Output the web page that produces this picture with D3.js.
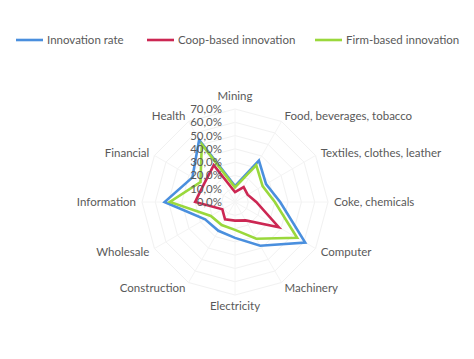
<!DOCTYPE html>
<html><head><meta charset="utf-8">
<script src="https://cdn.jsdelivr.net/npm/d3@7"></script>
<style>
html,body{margin:0;padding:0;background:#fff;}
svg text{font-family:Lato, "Liberation Sans", sans-serif;fill:#595959;}
</style></head>
<body><svg id="c" width="474" height="359"></svg>
<script>
const categories = ["Mining","Food, beverages, tobacco","Textiles, clothes, leather","Coke, chemicals","Computer","Machinery","Electricity","Construction","Wholesale","Information","Financial","Health"];
const innovationRate = [0.12,0.36,0.27,0.34,0.61,0.38,0.27,0.25,0.26,0.53,0.37,0.54];
const coopBased      = [0.075,0.13,0.11,0.16,0.38,0.16,0.14,0.15,0.11,0.30,0.27,0.32];
const firmBased      = [0.11,0.32,0.24,0.30,0.54,0.32,0.21,0.20,0.21,0.49,0.30,0.50];
const tickValues = [0,0.1,0.2,0.3,0.4,0.5,0.6,0.7];
const seriesNames = ["Innovation rate","Coop-based innovation","Firm-based innovation"];
const seriesColors = ["#4a8fde","#cc2753","#9ad83c"];
const series = [innovationRate, coopBased, firmBased];

const svg = d3.select("#c");
const cx = 235, cy = 202, R = 93;
const r = d3.scaleLinear().domain([0,0.7]).range([0,R]);
const ang = d3.scaleLinear().domain([0,categories.length]).range([0,2*Math.PI]);
const pt = (i,v)=>[cx+Math.sin(ang(i))*r(v), cy-Math.cos(ang(i))*r(v)];

const g = svg.append("g");
// grid polygons
tickValues.slice(1).forEach(t=>{
  g.append("path")
   .attr("d", d3.line()(categories.map((c,i)=>pt(i,t)))+"Z")
   .attr("fill","none").attr("stroke","#f1f1f1").attr("stroke-width",1);
});
// spokes
categories.forEach((c,i)=>{
  const p = pt(i,0.7);
  g.append("line").attr("x1",cx).attr("y1",cy).attr("x2",p[0]).attr("y2",p[1])
   .attr("stroke","#f4f4f4").attr("stroke-width",1);
});
// series
series.forEach((s,k)=>{
  g.append("path")
   .attr("d", d3.line()(s.map((v,i)=>pt(i,v)))+"Z")
   .attr("fill","none").attr("stroke",seriesColors[k]).attr("stroke-width",2.6)
   .attr("stroke-linejoin","miter");
});
// tick labels
const fmt = v=> (v*100).toFixed(1).replace(".",",")+"%";
tickValues.forEach(t=>{
  g.append("text").attr("x",cx-13).attr("y",cy-r(t)).attr("dy","0.35em")
   .attr("text-anchor","end").attr("font-size",11.5).text(fmt(t));
});
// category labels
categories.forEach((c,i)=>{
  const a = ang(i);
  const lr = 99;
  const x = cx+Math.sin(a)*lr, y = cy-Math.cos(a)*lr;
  const s = Math.sin(a), co = Math.cos(a);
  let anchor = Math.abs(s)<0.01 ? "middle" : (s>0?"start":"end");
  let dy = co>0.99 ? "-0.3em" : (co<-0.99 ? "0.8em" : "0.35em");
  g.append("text").attr("x",x).attr("y",y).attr("dy",dy)
   .attr("text-anchor",anchor).attr("font-size",11.5).text(c);
});
// legend
const legX = [16,147,315];
seriesNames.forEach((n,k)=>{
  svg.append("line").attr("x1",legX[k]).attr("x2",legX[k]+27).attr("y1",40).attr("y2",40)
    .attr("stroke",seriesColors[k]).attr("stroke-width",2.6);
  svg.append("text").attr("x",legX[k]+31).attr("y",40).attr("dy","0.35em")
    .attr("font-size",11.5).text(n);
});
</script></body></html>
